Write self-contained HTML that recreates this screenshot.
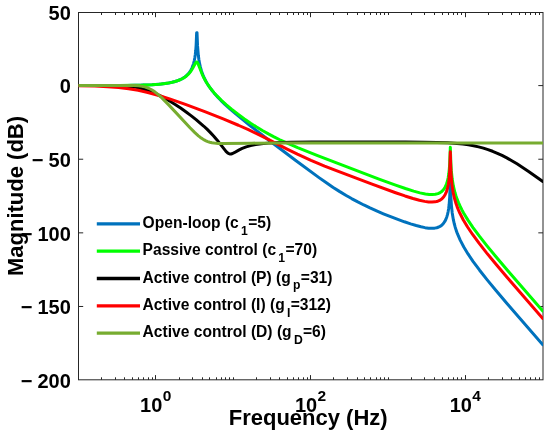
<!DOCTYPE html>
<html><head><meta charset="utf-8"><style>
html,body{margin:0;padding:0;background:#fff;}
svg{display:block;}
text{font-family:"Liberation Sans",Arial,sans-serif;font-weight:bold;fill:#000;}
.tk{font-size:20px;}
.sup{font-size:15.5px;}
.lg{font-size:15.6px;}
.sub{font-size:12.2px;}
.lab{font-size:22px;}
</style></head><body>
<svg width="550" height="436" viewBox="0 0 550 436">
<rect width="550" height="436" fill="#fff"/>
<rect x="78.5" y="12.5" width="464.50" height="367.30" fill="none" stroke="#262626" stroke-width="1"/>
<path d="M101.50,379.8V377.30M101.50,12.5V15.00M115.50,379.8V377.30M115.50,12.5V15.00M124.50,379.8V377.30M124.50,12.5V15.00M132.50,379.8V377.30M132.50,12.5V15.00M138.50,379.8V377.30M138.50,12.5V15.00M143.50,379.8V377.30M143.50,12.5V15.00M148.50,379.8V377.30M148.50,12.5V15.00M152.50,379.8V377.30M152.50,12.5V15.00M155.50,379.8V375.10M155.50,12.5V17.20M179.50,379.8V377.30M179.50,12.5V15.00M192.50,379.8V377.30M192.50,12.5V15.00M202.50,379.8V377.30M202.50,12.5V15.00M209.50,379.8V377.30M209.50,12.5V15.00M216.50,379.8V377.30M216.50,12.5V15.00M221.50,379.8V377.30M221.50,12.5V15.00M225.50,379.8V377.30M225.50,12.5V15.00M229.50,379.8V377.30M229.50,12.5V15.00M233.50,379.8V377.30M233.50,12.5V15.00M256.50,379.8V377.30M256.50,12.5V15.00M270.50,379.8V377.30M270.50,12.5V15.00M279.50,379.8V377.30M279.50,12.5V15.00M287.50,379.8V377.30M287.50,12.5V15.00M293.50,379.8V377.30M293.50,12.5V15.00M298.50,379.8V377.30M298.50,12.5V15.00M303.50,379.8V377.30M303.50,12.5V15.00M307.50,379.8V377.30M307.50,12.5V15.00M310.50,379.8V375.10M310.50,12.5V17.20M333.50,379.8V377.30M333.50,12.5V15.00M347.50,379.8V377.30M347.50,12.5V15.00M357.50,379.8V377.30M357.50,12.5V15.00M364.50,379.8V377.30M364.50,12.5V15.00M370.50,379.8V377.30M370.50,12.5V15.00M376.50,379.8V377.30M376.50,12.5V15.00M380.50,379.8V377.30M380.50,12.5V15.00M384.50,379.8V377.30M384.50,12.5V15.00M388.50,379.8V377.30M388.50,12.5V15.00M411.50,379.8V377.30M411.50,12.5V15.00M424.50,379.8V377.30M424.50,12.5V15.00M434.50,379.8V377.30M434.50,12.5V15.00M442.50,379.8V377.30M442.50,12.5V15.00M448.50,379.8V377.30M448.50,12.5V15.00M453.50,379.8V377.30M453.50,12.5V15.00M457.50,379.8V377.30M457.50,12.5V15.00M461.50,379.8V377.30M461.50,12.5V15.00M465.50,379.8V375.10M465.50,12.5V17.20M488.50,379.8V377.30M488.50,12.5V15.00M502.50,379.8V377.30M502.50,12.5V15.00M511.50,379.8V377.30M511.50,12.5V15.00M519.50,379.8V377.30M519.50,12.5V15.00M525.50,379.8V377.30M525.50,12.5V15.00M530.50,379.8V377.30M530.50,12.5V15.00M535.50,379.8V377.30M535.50,12.5V15.00M539.50,379.8V377.30M539.50,12.5V15.00M78.5,306.48H83.20M543.0,306.48H538.30M78.5,232.85H83.20M543.0,232.85H538.30M78.5,159.22H83.20M543.0,159.22H538.30M78.5,85.60H83.20M543.0,85.60H538.30" stroke="#262626" stroke-width="1" fill="none"/>
<clipPath id="c"><rect x="78.5" y="12.5" width="464.50" height="367.30"/></clipPath>
<g fill="none" stroke-width="3.0" stroke-linejoin="round" stroke-linecap="round" clip-path="url(#c)">
<path d="M78.40,85.59 127.40,85.39 141.40,85.12 152.20,84.67 161.40,83.94 168.80,82.93 172,82.29 175,81.53 177.60,80.70 180,79.75 182.40,78.55 184.40,77.31 186.40,75.74 188,74.17 189.40,72.45 190.80,70.28 191.80,68.33 192.80,65.87 193.60,63.34 194.25,60.74 194.82,57.80 195.30,54.51 195.76,50.28 196.12,45.47 196.64,32.85 197.02,32.80 197.55,45.93 198.36,55.55 198.92,59.76 199.61,63.64 200.40,67.16 201.40,70.71 202.60,74.17 204,77.52 205.60,80.75 207.20,83.56 209.20,86.66 211.60,89.97 214.20,93.18 217,96.36 220.80,100.32 225.20,104.56 230.20,109.09 235.80,113.92 250,125.48 269.60,140.74 295.40,160.28 319,177.62 326.40,182.81 333.20,187.39 339.80,191.62 346.20,195.50 352,198.81 357.80,201.93 363.80,204.97 370,207.93 376.60,210.90 383.40,213.79 390.60,216.69 397.80,219.42 404.40,221.79 410.60,223.85 416.20,225.55 421,226.81 425,227.65 428.60,228.15 431.80,228.31 434.60,228.13 436.80,227.71 438.80,227.04 440.60,226.10 442,225.01 443.40,223.50 444.80,221.46 445.80,219.51 446.80,216.94 447.54,214.41 448.17,211.50 448.71,208.21 449.15,204.49 449.74,196.31 450.32,181.81 450.86,196.54 451.39,205.04 452.22,212.93 453.40,219.95 454.20,223.51 455.20,227.21 456.20,230.38 457.40,233.69 460.20,240.17 463.80,247.05 468,253.95 473.20,261.60 479.60,270.23 487.20,279.86 496.20,290.78 507.40,303.99 542.80,344.78" stroke="#0072BD"/>
<path d="M78.40,85.59 120.20,85.47 143,85.07 151.80,84.69 159,84.18 165.20,83.50 170.60,82.61 175.40,81.45 179.60,80 183.20,78.25 186.20,76.21 188.40,74.22 190.40,71.86 192.40,68.78 195.48,62.94 196.18,62.13 196.50,61.97 196.80,61.99 197.39,62.47 198.04,63.62 202.20,74.29 204,78.10 206,81.72 208.40,85.47 211,89.02 214,92.65 217.20,96.15 221.60,100.50 226.40,104.83 231.80,109.34 238,114.19 244.40,118.90 250.60,123.19 256.60,127.06 262.80,130.77 268.40,133.91 274,136.87 279.80,139.76 285.60,142.47 297.60,147.63 317.60,155.64 379,179.05 395.60,185.17 405.40,188.54 413.60,191.12 420,192.87 425.40,193.99 429.20,194.47 432.40,194.56 435.40,194.26 438,193.59 440.20,192.58 442,191.24 443.80,189.22 445.20,186.97 446.40,184.29 447.37,181.28 448.17,177.73 448.82,173.60 449.30,169.09 449.67,163.85 450.32,147.21 450.84,162.24 451.36,170.94 452.21,179.04 453.40,186.17 455,192.75 456,196 457.20,199.39 458.60,202.87 460,205.98 461.80,209.60 463.60,212.91 467.80,219.86 473,227.54 479.40,236.19 487,245.83 496,256.76 507.40,270.21 542.80,311" stroke="#00FF00"/>
<path d="M78.40,85.57 114,85.62 122.60,85.88 129.40,86.38 136.20,87.34 142.40,88.74 148.60,90.72 155.20,93.42 159.80,95.62 164.80,98.27 170,101.26 175.20,104.49 180.60,108.06 185.80,111.72 191,115.58 196.09,119.59 203.60,126.02 207,129.18 210.20,132.35 213.60,135.97 216.80,139.66 225.80,151.15 226.80,152.18 227.80,153.02 228.80,153.61 229.60,153.88 231,153.94 232.60,153.50 234.20,152.72 239.20,149.86 242.20,148.39 246.20,146.85 250.60,145.60 255.60,144.58 261.40,143.76 268.20,143.12 276,142.67 290.80,142.22 311.80,142.01 356.80,141.93 405.40,142 423.40,142.15 436.80,142.42 447.75,142.86 457,143.50 463,144.12 468.40,144.86 473.60,145.77 478.60,146.87 483.40,148.14 488,149.59 492.60,151.27 497.40,153.27 502,155.42 506.80,157.89 511.80,160.69 517,163.82 522.60,167.39 528.60,171.40 542.80,181.42" stroke="#000000"/>
<path d="M78.40,85.79 94.80,86.10 107.60,86.63 118.60,87.45 128.60,88.65 138.20,90.28 147.80,92.44 158,95.24 169.60,98.91 185.40,104.44 204.80,111.69 223.20,118.91 238.40,125.25 248.40,129.72 258.20,134.39 266.80,138.70 286.60,148.90 297.40,154.20 311,160.37 324.60,166.07 339,171.66 371.40,183.84 395.60,192.72 405,195.95 413,198.47 419.40,200.24 424.60,201.37 428.60,201.93 432,202.08 435,201.84 437.80,201.17 440.20,200.09 442,198.75 443.80,196.72 445.20,194.47 446.40,191.80 447.44,188.52 448.26,184.76 448.91,180.36 449.38,175.50 449.74,169.77 450.32,151.86 450.76,167.50 451.24,176.76 452.03,185.11 453.16,192.45 454,196.40 454.80,199.54 455.80,202.89 457,206.36 458.40,209.90 459.80,213.05 463.20,219.70 467.40,226.74 472.60,234.48 479,243.17 486.60,252.84 495.60,263.78 507,277.24 542.80,318.50" stroke="#FF0000"/>
<path d="M78.40,85.58 124.40,85.45 133.80,85.58 138.40,85.86 142.20,86.37 145.60,87.16 148.60,88.23 151.60,89.72 154.80,91.81 158,94.34 161.60,97.61 169.20,105.36 190,127.79 194.60,132.40 198.40,135.82 200.40,137.41 202.40,138.82 204.20,139.91 206,140.83 207.80,141.58 209.80,142.23 212,142.74 214.20,143.09 218.20,143.42 223.40,143.52 251.80,143.14 281,143.01 542.80,142.98" stroke="#77AC30"/>
</g>
<g fill="none" stroke-width="3.3">
<path d="M96.8,223.90H140" stroke="#0072BD"/>
<path d="M96.8,251.20H140" stroke="#00FF00"/>
<path d="M96.8,278.50H140" stroke="#000000"/>
<path d="M96.8,305.80H140" stroke="#FF0000"/>
<path d="M96.8,333.10H140" stroke="#77AC30"/>
</g>
<g class="lg">
<text x="142.6" y="228.00">Open-loop (c<tspan class="sub" dx="2.3" dy="6.8">1</tspan><tspan dx="0.3" dy="-6.8">=5)</tspan></text>
<text x="142.6" y="255.30">Passive control (c<tspan class="sub" dx="2.3" dy="6.8">1</tspan><tspan dx="0.3" dy="-6.8">=70)</tspan></text>
<text x="142.6" y="282.60">Active control (P) (g<tspan class="sub" dx="2.3" dy="6.8">p</tspan><tspan dx="0.3" dy="-6.8">=31)</tspan></text>
<text x="142.6" y="309.90">Active control (I) (g<tspan class="sub" dx="2.3" dy="6.8">I</tspan><tspan dx="0.3" dy="-6.8">=312)</tspan></text>
<text x="142.6" y="337.20">Active control (D) (g<tspan class="sub" dx="2.3" dy="6.8">D</tspan><tspan dx="0.3" dy="-6.8">=6)</tspan></text>
</g>
<g class="tk">
<text x="70.8" y="19.77" text-anchor="end">50</text>
<text x="70.8" y="93.40" text-anchor="end">0</text>
<text x="70.8" y="167.03" text-anchor="end"><tspan>−</tspan><tspan dx="5">50</tspan></text>
<text x="70.8" y="240.65" text-anchor="end"><tspan>−</tspan><tspan dx="5">100</tspan></text>
<text x="70.8" y="314.28" text-anchor="end"><tspan>−</tspan><tspan dx="5">150</tspan></text>
<text x="70.8" y="387.90" text-anchor="end"><tspan>−</tspan><tspan dx="5">200</tspan></text>
<text x="155.70" y="412.3" text-anchor="middle">10<tspan class="sup" dx="0.3" dy="-11">0</tspan></text>
<text x="310.50" y="412.3" text-anchor="middle">10<tspan class="sup" dx="0.3" dy="-11">2</tspan></text>
<text x="465.30" y="412.3" text-anchor="middle">10<tspan class="sup" dx="0.3" dy="-11">4</tspan></text>
</g>
<text class="lab" x="308.2" y="424.5" text-anchor="middle">Frequency (Hz)</text>
<text class="lab" transform="translate(23,196) rotate(-90)" text-anchor="middle">Magnitude (dB)</text>
</svg>
</body></html>
